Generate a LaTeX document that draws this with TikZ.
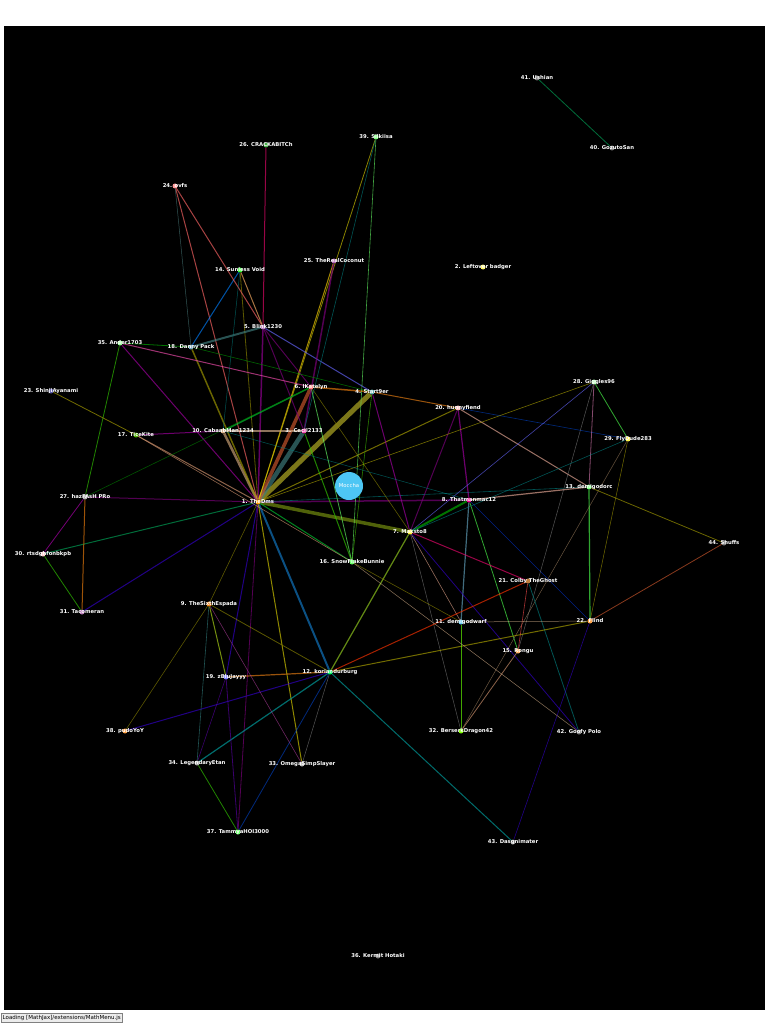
\documentclass[tikz,border=0pt]{standalone}
\usepackage{fontspec}
\setmainfont{DejaVu Sans}
\usetikzlibrary{backgrounds}
\tikzset{
  dot/.style={circle,inner sep=0pt,minimum size=5pt,draw=none},
  lbl/.style={text=white,font=\bfseries\fontsize{5.3}{6}\selectfont,inner sep=0pt},
  ed/.style={line width=0.6pt,opacity=0.65}
}
\newcommand\nd[5]{\node[dot,fill=#4] (n#1) at (#2,#3) {}; \node[lbl] (l#1) at (#2,#3) {#5};}
\newcommand\ed[4]{\draw[ed,#3,line width=#4] (n#1) -- (n#2);}
\begin{document}
\begin{tikzpicture}[x=1pt,y=-1pt]
\useasboundingbox (0,0) rectangle (768,1024);
\nd{1}{258}{502}{orange!80!yellow}{1. TheDms}
\nd{2}{483}{267}{yellow!60}{2. Leftover badger}
\nd{3}{304}{431}{magenta!70}{3. Cecil2133}
\nd{4}{372}{392}{teal!60}{4. Start9er}
\nd{5}{263}{327}{violet!50}{5. Blink1230}
\nd{6}{311}{387}{red!50}{6. lKatelyn}
\nd{7}{410}{532}{yellow!80}{7. Maksto8}
\nd{8}{469}{500}{magenta}{8. Thatmanmac12}
\nd{9}{209}{604}{orange!70!brown}{9. TheSixthEspada}
\nd{10}{223}{431}{brown!60}{10. CabaabMan1234}
\nd{11}{461}{622}{cyan!60}{11. demigodwarf}
\nd{12}{330}{672}{green!60!cyan}{12. koriandurburg}
\nd{13}{589}{487}{green!50}{13. demigodorc}
\nd{14}{240}{270}{green!80}{14. Sunless Void}
\nd{15}{518}{651}{orange!60}{15. Rongu}
\nd{16}{352}{562}{green!60}{16. SnowFlakeBunnie}
\nd{17}{136}{435}{green!40!olive}{17. TiceKite}
\nd{18}{191}{347}{cyan!40!gray}{18. Danny Pack}
\nd{19}{226}{677}{blue!50}{19. zBluJayyy}
\nd{20}{458}{408}{pink}{20. hunnyfiend}
\nd{21}{528}{581}{brown}{21. Colby TheGhost}
\nd{22}{590}{621}{orange!70}{22. Flind}
\nd{23}{51}{391}{blue!30!gray}{23. ShinjiAyanami}
\nd{24}{175}{186}{red!40}{24. ovfs}
\nd{25}{334}{261}{violet!60}{25. TheRealCoconut}
\nd{26}{266}{145}{green!40!gray}{26. CRACKABITCh}
\nd{27}{85}{497}{gray!60}{27. hazFAsH PRo}
\nd{28}{594}{382}{green!30}{28. Giggles96}
\nd{29}{628}{439}{yellow!70}{29. FlyDude283}
\nd{30}{43}{554}{pink!80}{30. rtsdghfonbkpb}
\nd{31}{82}{612}{violet!50}{31. Tacomeran}
\nd{32}{461}{731}{green!50!yellow}{32. BerserkDragon42}
\nd{33}{302}{764}{gray!50}{33. OmegaSimpSlayer}
\nd{34}{197}{763}{gray!60}{34. LegendaryEtan}
\nd{35}{120}{343}{green!40}{35. Ander1703}
\nd{36}{378}{956}{gray}{36. Kermit Hotaki}
\nd{37}{238}{832}{green!60}{37. TammyaHOI3000}
\nd{38}{125}{731}{orange!70}{38. pudoYoY}
\nd{39}{376}{137}{green!50}{39. Silkiisa}
\nd{40}{612}{148}{gray}{40. GozutoSan}
\nd{41}{537}{78}{gray}{41. Ushian}
\nd{42}{579}{732}{gray}{42. Goofy Polo}
\nd{43}{513}{842}{gray}{43. Dasgnimater}
\nd{44}{724}{543}{gray}{44. Shuffs}
\node[circle,fill=cyan!70!white,minimum size=28pt,inner sep=0pt,text=white,font=\fontsize{5.3}{6}\selectfont] (moc) at (349,486) {Moccha};
\node[draw=gray,fill=gray!15,inner sep=1.5pt,anchor=south west,font=\fontsize{5.5}{6}\selectfont] (load) at (1,1022) {Loading [MathJax]/extensions/MathMenu.js};
\begin{pgfonlayer}{background}
\fill[white] (0,0) rectangle (768,1024);
\fill[black] (4,26) rectangle (765,1010);
\ed{1}{4}{olive!70!yellow!80!white}{5pt}
\ed{1}{3}{teal!50!gray}{4.5pt}
\ed{1}{6}{brown!70!red}{3.5pt}
\ed{1}{10}{brown!70}{2.5pt}
\ed{1}{7}{olive!70!green}{3.5pt}
\ed{1}{8}{violet}{1.5pt}
\ed{1}{5}{violet!80!magenta}{1.5pt}
\ed{1}{18}{olive!80!yellow}{1.5pt}
\ed{1}{35}{violet!70!magenta}{1pt}
\ed{1}{17}{brown!60!pink}{1pt}
\ed{1}{27}{violet}{1pt}
\ed{1}{30}{teal!70!green}{1pt}
\ed{1}{31}{blue!60!violet}{1pt}
\ed{1}{12}{cyan!60!blue}{2pt}
\ed{1}{9}{olive}{0.6pt}
\ed{1}{19}{blue!60!violet}{1pt}
\ed{1}{37}{violet}{0.8pt}
\ed{1}{33}{yellow!70!olive}{1pt}
\ed{1}{16}{green!60!teal}{1pt}
\ed{1}{20}{olive!70!yellow}{1pt}
\ed{1}{24}{red!60}{1pt}
\ed{1}{14}{olive}{0.8pt}
\ed{1}{25}{yellow!70!orange}{1pt}
\ed{1}{39}{yellow!60!olive}{0.8pt}
\ed{1}{13}{teal}{0.6pt}
\ed{5}{6}{violet}{1pt}
\ed{5}{4}{blue!60}{1pt}
\ed{5}{18}{teal!50!gray}{2pt}
\ed{14}{18}{blue!50!cyan}{1pt}
\ed{5}{26}{magenta!70!red}{1pt}
\ed{5}{24}{red!60}{1pt}
\ed{5}{14}{orange!60}{1pt}
\ed{5}{3}{violet}{1pt}
\ed{6}{4}{orange!80!brown}{1.5pt}
\ed{4}{20}{orange!70!brown}{1pt}
\ed{6}{10}{green!60!teal}{1.5pt}
\ed{6}{7}{olive}{0.6pt}
\ed{4}{7}{violet!70!magenta}{1pt}
\ed{4}{16}{green!50!olive}{0.6pt}
\ed{3}{16}{green!60!olive}{1pt}
\ed{3}{10}{brown!60}{1.5pt}
\ed{25}{3}{violet}{1.5pt}
\ed{39}{16}{green!60}{0.6pt}
\ed{39}{3}{teal}{0.6pt}
\ed{20}{8}{violet!70!magenta}{1.2pt}
\ed{20}{7}{violet}{1pt}
\ed{20}{13}{pink!70!brown}{1pt}
\ed{20}{29}{blue!50!teal}{0.6pt}
\ed{8}{13}{pink!70!brown}{1.2pt}
\ed{8}{7}{green!70!black}{2pt}
\ed{8}{11}{cyan!50!gray}{1.2pt}
\ed{8}{15}{green!70}{0.8pt}
\ed{8}{22}{blue!60!teal}{0.6pt}
\ed{7}{21}{magenta!70!red}{1pt}
\ed{7}{11}{pink!60!brown}{0.6pt}
\ed{7}{12}{yellow!60!green}{1.2pt}
\ed{7}{42}{blue!60!violet}{0.8pt}
\ed{7}{32}{gray}{0.5pt}
\ed{13}{22}{green!70}{1.2pt}
\ed{13}{44}{olive!80!yellow}{0.8pt}
\ed{22}{44}{brown!70!red}{0.8pt}
\ed{28}{13}{pink!60!violet}{0.8pt}
\ed{28}{29}{green!70}{0.8pt}
\ed{28}{7}{blue!60}{0.6pt}
\ed{28}{15}{gray}{0.5pt}
\ed{28}{1}{olive!70!yellow}{0.6pt}
\ed{29}{7}{teal}{0.6pt}
\ed{29}{32}{brown!50!gray}{0.5pt}
\ed{29}{22}{olive!70!yellow}{0.5pt}
\ed{21}{12}{red!60!orange}{1pt}
\ed{21}{15}{red!70}{0.6pt}
\ed{21}{42}{teal}{0.8pt}
\ed{22}{12}{olive!70!yellow}{1pt}
\ed{22}{43}{blue!60!violet}{0.6pt}
\ed{11}{32}{green!60!yellow}{0.6pt}
\ed{15}{32}{brown!60!pink}{0.8pt}
\ed{11}{22}{brown!60}{0.5pt}
\ed{12}{34}{teal!70!cyan}{1.2pt}
\ed{12}{38}{blue!60!violet}{1pt}
\ed{12}{19}{orange!70!brown}{1.2pt}
\ed{12}{43}{teal!70!cyan}{1pt}
\ed{12}{37}{blue!50!teal}{0.8pt}
\ed{12}{33}{gray}{0.5pt}
\ed{9}{19}{yellow!70!green}{1pt}
\ed{9}{38}{olive}{0.6pt}
\ed{9}{34}{teal!60!gray}{0.6pt}
\ed{9}{12}{olive}{0.8pt}
\ed{9}{33}{violet!70!pink}{0.6pt}
\ed{34}{37}{green!60!olive}{0.8pt}
\ed{27}{31}{orange!80!brown}{1pt}
\ed{27}{30}{violet!60!magenta}{0.8pt}
\ed{30}{31}{green!60!olive}{0.8pt}
\ed{35}{27}{green!60!olive}{0.8pt}
\ed{35}{18}{green!70!black}{0.8pt}
\ed{35}{6}{magenta!70}{1pt}
\ed{23}{17}{olive!70!yellow}{0.8pt}
\ed{17}{10}{violet!70!magenta}{1pt}
\ed{17}{16}{brown!60!pink}{0.6pt}
\ed{27}{6}{green!50!black}{0.6pt}
\ed{41}{40}{teal!70!green}{0.8pt}
\ed{18}{4}{green!60!black}{0.6pt}
\ed{24}{18}{gray!60!teal}{0.5pt}
\ed{16}{11}{olive}{0.6pt}
\ed{16}{42}{brown!60}{0.5pt}
\ed{10}{8}{teal}{0.5pt}
\ed{6}{16}{green!60}{0.8pt}
\ed{14}{10}{teal}{0.5pt}
\ed{19}{37}{violet!70!blue}{0.8pt}
\ed{34}{19}{violet!70!blue}{0.6pt}
\end{pgfonlayer}
\end{tikzpicture}
\end{document}
